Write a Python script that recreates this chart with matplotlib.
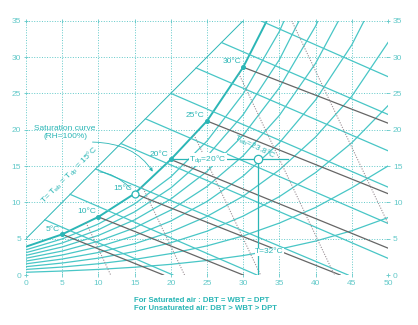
import matplotlib
matplotlib.use('Agg')
import matplotlib.pyplot as plt

plt.rcParams['font.family'] = ['Liberation Sans', 'DejaVu Sans']
plt.rcParams['mathtext.fontset'] = 'custom'
plt.rcParams['mathtext.rm'] = 'Liberation Sans'

TEAL = '#2bb6b6'
LINE = '#48c6c6'
GRID = '#62c9c9'
DARK = '#666666'
DOT = '#9a8f95'

# dry bulb grid for the RH curves (deg C)
T_grid = [0, 5, 10, 15, 20, 25, 30, 35, 40, 45, 50]

# saturation curve (RH=100%), humidity ratio g/kg
sat_T = [0, 5, 10, 15, 20, 25, 30, 35]
sat_W = [3.9, 5.6, 8.0, 11.2, 15.9, 21.2, 28.6, 38.4]

# RH = 10% ... 90%
rh10 = [0.38, 0.55, 0.77, 1.07, 1.47, 2.00, 2.68, 3.56, 4.67, 6.09, 7.9]
rh20 = [0.77, 1.10, 1.55, 2.15, 2.95, 4.01, 5.38, 7.15, 9.3, 12.0, 15.0]
rh30 = [1.15, 1.65, 2.32, 3.23, 4.44, 6.03, 8.11, 10.79, 14.1, 18.2, 23.3]
rh40 = [1.54, 2.20, 3.10, 4.31, 5.93, 8.07, 10.85, 14.47, 19.0, 24.6, 32.0]
rh50 = [1.92, 2.75, 3.88, 5.40, 7.43, 10.12, 13.63, 18.20, 24.10, 31.67, 41.4]
rh60 = [2.31, 3.30, 4.66, 6.49, 8.94, 12.18, 16.42, 21.97, 29.14, 38.39]
rh70 = [2.70, 3.86, 5.45, 7.59, 10.46, 14.25, 19.24, 25.78, 34.26, 45.26]
rh80 = [3.08, 4.41, 6.23, 8.69, 11.98, 16.34, 22.07, 29.64, 39.46]
rh90 = [3.47, 4.97, 7.02, 9.79, 13.51, 18.44, 24.94, 33.53, 44.75]
rh_curves = [rh10, rh20, rh30, rh40, rh50, rh60, rh70, rh80, rh90]

# wet bulb lines (dark) from the marked saturation points
wb_T = [5, 10, 15, 20, 25, 30]
wb_W = [5.6, 8.0, 11.2, 15.9, 21.2, 28.6]
wb_end_x = [19.0, 30.0, 43.4, 50, 50, 50]
wb_end_y = [0, 0, 0, 3.7, 11.2, 20.9]

# enthalpy lines (cyan), from the diagonal scale line
h_x0 = [2.6, 6.1, 9.6, 13.1, 16.5, 20.0, 23.5, 27.0, 32.4]
h_y0 = [7.6, 11.1, 14.6, 18.1, 21.5, 25.0, 28.5, 32.0, 35.0]
h_x1 = [20.3, 31.9, 44.5, 50, 50, 50, 50, 50, 50]
h_y1 = [0, 0, 0, 2.3, 7.1, 12.1, 17.1, 22.1, 27.3]

# specific volume lines (dotted)
v_x0 = [8.3, 16.05, 23.2, 29.4, 36.7]
v_y0 = [7.2, 12.2, 19.3, 27.7, 35.0]
v_x1 = [11.7, 21.9, 32.4, 42.6, 50]
v_y1 = [0, 0, 0, 0, 7.1]

# diagonal scale line T = Twb = Tdp
diag_x = [0, 30]
diag_y = [5, 35]

# state point
state_T = 32
state_W = 15.9
dp_T = 20
twb_label = 'T$_{\\mathrm{wb}}$=23.8°C'

fig = plt.figure(figsize=(4.18, 3.25), dpi=100)
ax = fig.add_axes([0.0622, 0.1538, 0.8660, 0.7825])
ax.set_xlim(0, 50)
ax.set_ylim(0, 35)

for c in rh_curves:
    ax.plot(T_grid[:len(c)], c, color=LINE, lw=0.9)
ax.plot(sat_T, sat_W, color=TEAL, lw=1.4)
ax.plot(diag_x, diag_y, color=TEAL, lw=0.7)

for i in range(len(h_x0)):
    ax.plot([h_x0[i], h_x1[i]], [h_y0[i], h_y1[i]], color=LINE, lw=0.9)
for i in range(len(wb_T)):
    ax.plot([wb_T[i], wb_end_x[i]], [wb_W[i], wb_end_y[i]], color=DARK, lw=0.9)
for i in range(len(v_x0)):
    ax.plot([v_x0[i], v_x1[i]], [v_y0[i], v_y1[i]], color=DOT, lw=0.8, ls=(0, (1, 1.3)))

# dew point and dry bulb guides
ax.plot([dp_T, 36.2], [state_W, state_W], color=TEAL, lw=0.9)
ax.plot([state_T, state_T], [state_W, 0], color=TEAL, lw=0.9)

# saturation markers
for t, w in zip(wb_T, wb_W):
    if t == 15:
        ax.plot(t, w, 'o', ms=5, mfc='white', mec=TEAL, mew=0.9, zorder=5)
    else:
        ax.plot(t, w, 'o', ms=2.6, color=TEAL, zorder=5)
    ax.text(t - 0.3, w + 0.25, '%d°C' % t, color=TEAL, fontsize=6, ha='right', va='bottom')
ax.plot(state_T, state_W, 'o', ms=6, mfc='white', mec=TEAL, mew=0.9, zorder=6)

ax.text(25.1, state_W, 'T$_{\\mathrm{dp}}$=20°C', color=TEAL, fontsize=6, ha='center', va='center',
        bbox=dict(fc='white', ec='none', pad=0.3), zorder=4)
ax.text(31.6, 17.6, twb_label, color=TEAL, fontsize=6, ha='center', va='center', rotation=-26, zorder=4)
ax.text(33.6, 3.2, 'T=32°C', color=TEAL, fontsize=6, ha='center', va='center',
        bbox=dict(fc='white', ec='none', pad=0.2), zorder=4)

ax.text(5.4, 19.6, 'Saturation curve\n(RH=100%)', color=TEAL, fontsize=6, ha='center', va='center',
        linespacing=1.1)
ax.annotate('', xy=(17.7, 13.9), xytext=(8.8, 18.3),
            arrowprops=dict(arrowstyle='-|>', connectionstyle='angle3,angleA=0,angleB=-60',
                            color=TEAL, lw=0.6, mutation_scale=5))
ax.text(6.0, 13.7, 'T= T$_{\\mathrm{wb}}$ = T$_{\\mathrm{dp}}$ = 15°C', color=TEAL, fontsize=6,
        ha='center', va='center', rotation=45)
ax.annotate('', xy=(14.7, 11.7), xytext=(9.8, 14.2),
            arrowprops=dict(arrowstyle='-', connectionstyle='angle3,angleA=0,angleB=-45',
                            color=TEAL, lw=0.6))

ax.set_xticks(range(0, 51, 5))
ax.set_yticks(range(0, 36, 5))
ax.grid(True, color=GRID, ls=':', lw=0.7)
ax.set_axisbelow(True)
for s in ax.spines.values():
    s.set_visible(False)
ax.tick_params(axis='both', direction='inout', length=3, width=0.6, color=GRID, labelcolor=GRID,
               labelsize=6, top=True, right=True, labelright=True, pad=2)

fig.text(134 / 418, 1 - 300 / 325, 'For Saturated air : DBT = WBT = DPT', color=TEAL, fontsize=5.6,
         fontweight='bold', ha='left', va='center')
fig.text(134 / 418, 1 - 309 / 325, 'For Unsaturated air: DBT > WBT > DPT', color=TEAL, fontsize=5.6,
         fontweight='bold', ha='left', va='center')

fig.savefig('out.png', dpi=100, facecolor='white')
